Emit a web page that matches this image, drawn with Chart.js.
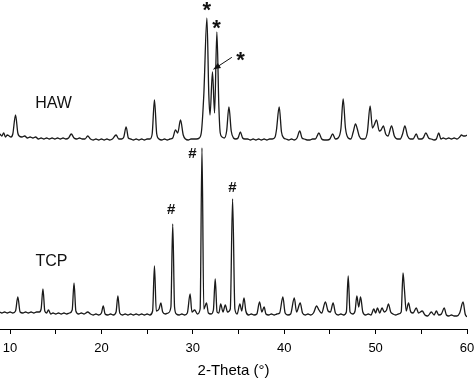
<!DOCTYPE html>
<html>
<head>
<meta charset="utf-8">
<script src="https://cdn.jsdelivr.net/npm/chart.js@4.4.1/dist/chart.umd.min.js"></script>
<style>
  html, body { margin: 0; padding: 0; background: #fff; }
  #wrap { width: 474px; height: 380px; position: relative; }
</style>
</head>
<body>
<div id="wrap"><canvas id="c"></canvas></div>
<script>
// ---- Data (2-Theta in degrees, intensity in arbitrary units, HAW trace offset upward) ----
const hawTheta = [8.9,9.1,9.3,9.5,9.7,9.9,10.1,10.3,10.6,10.85,11.0,11.3,11.6,11.9,12.2,12.5,12.8,13.1,13.4,13.7,14.0,14.3,14.6,14.9,15.2,15.5,15.8,16.1,16.4,16.7,17.0,17.3,17.6,17.9,18.2,18.5,18.8,19.1,19.4,19.7,20.0,20.3,20.6,20.9,21.2,21.6,21.9,22.2,22.45,22.7,22.95,23.2,23.5,23.8,24.1,24.4,24.7,25.0,25.3,25.55,25.8,26.05,26.3,26.6,26.9,27.2,27.5,27.8,28.1,28.35,28.65,28.95,29.2,29.5,29.8,30.1,30.4,30.7,30.95,31.2,31.54,31.75,31.88,32.15,32.38,32.63,32.85,33.0,33.2,33.45,33.7,33.95,34.2,34.45,34.7,34.95,35.2,35.45,35.7,36.0,36.3,36.6,36.9,37.2,37.5,37.8,38.1,38.4,38.7,39.0,39.15,39.45,39.7,39.95,40.2,40.5,40.8,41.1,41.4,41.7,41.95,42.2,42.5,42.8,43.1,43.4,43.8,44.1,44.4,44.7,45.0,45.3,45.6,45.9,46.2,46.45,46.7,47.0,47.3,47.55,47.8,48.0,48.2,48.5,48.8,49.1,49.4,49.65,49.85,50.1,50.4,50.6,50.85,51.1,51.35,51.75,52.05,52.4,52.7,52.95,53.2,53.5,53.8,54.1,54.45,54.7,55.0,55.2,55.5,55.8,56.1,56.4,56.65,56.9,57.15,57.4,57.7,58.0,58.3,58.6,58.9,59.2,59.4,59.6,59.8,60.0];
const hawIntensity = [195,193,196,192,194,193,192,195,214,196,193,192,193,191,192,191,192,190,191,190,191,190,191,190,191,190,191,190,191,195,191,190,191,190,190,193,190,189,190,189,190,189,190,189,190,194,190,190,192,202,191,190,189,190,189,190,189,190,190,195,229,195,190,189,190,189,190,191,199,196,209,194,190,189,190,190,190,191,198,234,311,234,214,257,216,297,222,196,192,191,198,222,198,191,190,191,197,191,190,190,189,190,189,190,189,190,189,190,190,192,199,222,197,191,190,189,190,189,191,198,191,190,189,189,190,190,196,190,189,189,190,195,190,191,200,230,201,191,190,197,205,200,193,190,190,197,223,201,204,209,198,199,203,195,193,203,193,190,190,195,203,193,190,190,195,190,190,191,196,191,190,189,190,196,190,191,190,191,190,191,190,192,194,193,193,194];

const tcpTheta = [8.9,9.1,9.4,9.7,10.0,10.3,10.6,10.85,11.1,11.4,11.7,12.0,12.3,12.6,12.9,13.2,13.4,13.6,13.8,14.0,14.2,14.45,14.7,15.0,15.3,15.6,15.9,16.2,16.5,16.8,17.0,17.2,17.5,17.8,18.1,18.5,18.8,19.1,19.4,19.7,20.0,20.2,20.4,20.7,21.0,21.3,21.6,21.8,22.0,22.3,22.6,22.9,23.2,23.5,23.8,24.1,24.4,24.7,25.0,25.3,25.6,25.8,26.0,26.3,26.5,26.7,27.0,27.3,27.6,27.8,28.0,28.2,28.5,28.8,29.1,29.4,29.7,29.9,30.2,30.5,30.8,31.0,31.2,31.5,31.7,32.0,32.25,32.45,32.65,32.85,33.05,33.3,33.55,33.8,34.1,34.35,34.6,34.85,35.15,35.35,35.6,35.8,36.1,36.4,36.7,37.0,37.3,37.55,37.8,38.0,38.3,38.6,38.9,39.2,39.5,39.85,40.1,40.4,40.7,41.1,41.35,41.75,42.0,42.3,42.6,42.9,43.2,43.55,43.8,44.1,44.5,44.8,45.05,45.35,45.6,45.9,46.2,46.5,46.8,47.0,47.2,47.5,47.75,47.95,48.15,48.35,48.6,48.9,49.2,49.5,49.8,50.0,50.2,50.45,50.7,50.95,51.2,51.4,51.65,51.9,52.2,52.5,52.8,53.0,53.15,53.35,53.6,53.85,54.1,54.45,54.7,55.1,55.4,55.7,56.1,56.4,56.65,56.9,57.2,57.5,57.75,58.0,58.3,58.6,58.9,59.2,59.57,59.8,60.0];
const tcpIntensity = [17,16,17,16,17,16,18,32,17,16,17,16,17,16,17,17,20,40,18,16,19,15,16,15,16,15,16,15,16,19,46,18,15,16,15,17,15,14,15,14,16,23,15,14,15,14,17,33,16,14,15,14,15,14,15,14,15,14,15,14,18,63,18,20,26,17,15,16,22,105,22,15,14,15,14,16,35,17,19,15,20,181,20,26,16,15,19,50,17,16,25,17,24,17,20,130,20,15,25,18,31,18,14,15,14,15,27,17,22,15,14,15,14,15,16,32,16,14,15,31,17,26,16,14,15,14,16,23,19,16,27,18,17,26,16,14,15,14,17,53,17,15,18,33,22,32,17,14,15,14,20,16,21,16,21,17,19,25,17,15,14,15,17,56,40,18,26,17,16,21,16,18,14,13,17,14,18,14,15,21,14,13,14,13,13,16,27,15,12];

const xTickValues = [10,15,20,25,30,35,40,45,50,55,60];
const xLabelValues = [10,20,30,40,50,60];
const sampleNames = ['HAW','TCP'];
const xTitle = '2-Theta (\u00b0)';

// ---- Build datasets ----
const toPts = (xs, ys) => xs.map((x, i) => ({x: x, y: ys[i]}));
const FONT = '"Liberation Sans", Arial, Helvetica, sans-serif';

const annotations = [
  {text: sampleNames[0], x: 14.76, y: 225, font: '16px ' + FONT},
  {text: sampleNames[1], x: 14.54, y: 67, font: '16px ' + FONT},
  {text: '*', x: 31.52, y: 324.5, font: 'bold 22px ' + FONT, star: true},
  {text: '*', x: 32.6, y: 306.5, font: 'bold 22px ' + FONT, star: true},
  {text: '*', x: 35.22, y: 274.5, font: 'bold 22px ' + FONT, star: true},
  {text: '#', x: 29.96, y: 175, font: 'bold 15px ' + FONT},
  {text: '#', x: 27.63, y: 119, font: 'bold 15px ' + FONT},
  {text: '#', x: 34.34, y: 141, font: 'bold 15px ' + FONT}
];
const arrow = {from: {x: 34.27, y: 271.7}, to: {x: 32.26, y: 259.7}};

const annotPlugin = {
  id: 'annot',
  afterDraw(chart) {
    const {ctx, scales} = chart;
    const xs = scales.x, ys = scales.y;
    ctx.save();
    ctx.fillStyle = '#111';
    ctx.textAlign = 'center';
    annotations.forEach(a => {
      ctx.font = a.font;
      const px = xs.getPixelForValue(a.x);
      const py = ys.getPixelForValue(a.y);
      if (a.star) {
        ctx.textBaseline = 'alphabetic';
        ctx.fillText(a.text, px, py + 12);
      } else {
        ctx.textBaseline = 'middle';
        ctx.fillText(a.text, px, py);
      }
    });
    // arrow
    const x1 = xs.getPixelForValue(arrow.from.x), y1 = ys.getPixelForValue(arrow.from.y);
    const x2 = xs.getPixelForValue(arrow.to.x), y2 = ys.getPixelForValue(arrow.to.y);
    ctx.strokeStyle = '#111';
    ctx.lineWidth = 1;
    ctx.beginPath();
    ctx.moveTo(x1, y1);
    ctx.lineTo(x2, y2);
    ctx.stroke();
    const ang = Math.atan2(y2 - y1, x2 - x1);
    const L = 7, W = 3;
    ctx.beginPath();
    ctx.moveTo(x2, y2);
    ctx.lineTo(x2 - L * Math.cos(ang) + W * Math.sin(ang), y2 - L * Math.sin(ang) - W * Math.cos(ang));
    ctx.lineTo(x2 - L * Math.cos(ang) - W * Math.sin(ang), y2 - L * Math.sin(ang) + W * Math.cos(ang));
    ctx.closePath();
    ctx.fill();
    ctx.restore();
  }
};

new Chart(document.getElementById('c'), {
  type: 'line',
  data: {
    datasets: [
      {label: sampleNames[0], data: toPts(hawTheta, hawIntensity)},
      {label: sampleNames[1], data: toPts(tcpTheta, tcpIntensity)}
    ]
  },
  options: {
    responsive: true,
    maintainAspectRatio: false,
    animation: false,
    devicePixelRatio: 1,
    layout: {padding: {left: 0, right: 7, top: 0, bottom: 0}},
    elements: {
      line: {borderColor: '#1a1a1a', borderWidth: 1.3, tension: 0, cubicInterpolationMode: 'monotone', fill: false},
      point: {radius: 0}
    },
    plugins: {legend: {display: false}, tooltip: {enabled: false}},
    scales: {
      x: {
        type: 'linear',
        min: 8.9,
        max: 60,
        afterBuildTicks(scale) { scale.ticks = xTickValues.map(v => ({value: v})); },
        afterFit(scale) {
          scale.height = 51;
          scale.paddingLeft = 0;
          scale.paddingRight = 0;
        },
        border: {display: true, color: '#000', width: 1},
        grid: {display: true, drawOnChartArea: false, drawTicks: true, tickLength: 5, color: '#000', lineWidth: 1},
        ticks: {
          autoSkip: false,
          maxRotation: 0,
          minRotation: 0,
          padding: 7,
          color: '#000',
          font: {family: FONT, size: 13},
          callback: v => xLabelValues.includes(v) ? String(v) : ''
        },
        title: {display: true, text: xTitle, color: '#000', font: {family: FONT, size: 15}, padding: {top: 0, bottom: 0}}
      },
      y: {
        display: false,
        min: 0,
        max: 329
      }
    }
  },
  plugins: [annotPlugin]
});
</script>
</body>
</html>
